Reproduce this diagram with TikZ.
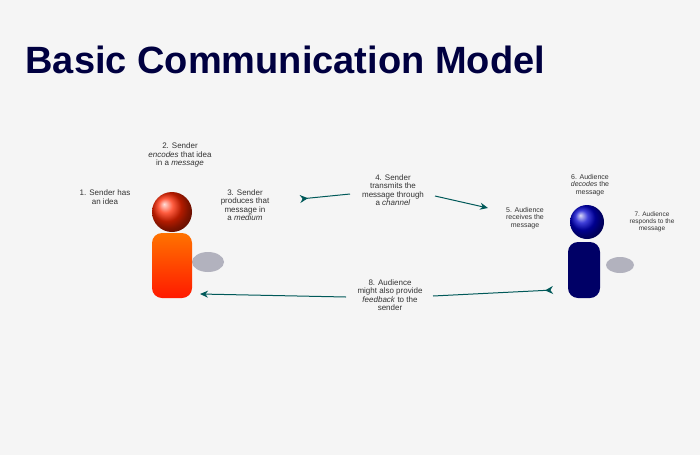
\documentclass[tikz,border=0pt]{standalone}
\usepackage{fontspec}
\setmainfont{Liberation Sans}
\usetikzlibrary{arrows.meta}
\begin{document}
\begin{tikzpicture}[x=1pt,y=-1pt,
  lbl/.style={align=center,font=\fontsize{8}{8.5}\selectfont,text=black!80},
  conn/.style={draw=teal!70!black,line width=1pt},
  tip/.style={-{Stealth[length=8pt,width=7pt]}}]
\useasboundingbox[fill=black!4] (0,0) rectangle (700,455);
\node[anchor=west] (title) at (22,60) {\fontsize{38}{40}\selectfont\bfseries\color{blue!25!black}Basic Communication Model};
% sender
\fill[blue!15!black!30] (208,262) ellipse (16 and 10);
\shade[top color=orange!90!red, bottom color=red!80!orange, rounded corners=10pt] (152,233) rectangle (192,298);
\shade[ball color=red!70!orange] (172,212) circle (20);
\coordinate (sender) at (200,294);
% audience
\fill[blue!15!black!30] (620,265) ellipse (14 and 8);
\fill[blue!40!black, rounded corners=10pt] (568,242) rectangle (600,298);
\shade[ball color=blue!80!black] (587,222) circle (17);
% labels
\node[lbl] (l1) at (105,197) {1. Sender has\\an idea};
\node[lbl] (l2) at (180,155) {2. Sender\\\textit{encodes} that idea\\in a \textit{message}};
\node[lbl] (l3) at (245,205) {3. Sender\\produces that\\message in\\a \textit{medium}};
\node[lbl] (l4) at (393,190) {4. Sender\\transmits the\\message through\\a \textit{channel}};
\node[lbl,font=\fontsize{7}{7.5}\selectfont] (l5) at (525,218) {5. Audience\\receives the\\message};
\node[lbl,font=\fontsize{7}{7.5}\selectfont] (l6) at (590,185) {6. Audience\\\textit{decodes} the\\message};
\node[lbl,font=\fontsize{6.5}{7}\selectfont] (l7) at (652,222) {7. Audience\\responds to the\\message};
\node[lbl] (l8) at (390,295) {8. Audience\\might also provide\\\textit{feedback} to the\\sender};
% arrows
\coordinate (a1) at (300,199);
\coordinate (a2) at (350,194);
\draw[conn,{Stealth[length=8pt,width=8pt,reversed]}-] (a1) -- (a2);
\coordinate (b1) at (435,196);
\coordinate (b2) at (488,208);
\draw[conn,tip] (b1) -- (b2);
\coordinate (c1) at (553,290);
\coordinate (c2) at (433,296);
\draw[conn,{Stealth[length=8pt,width=8pt,reversed]}-] (c1) -- (c2);
\coordinate (d1) at (346,297);
\draw[conn,tip] (d1) -- (sender);
\end{tikzpicture}
\end{document}
